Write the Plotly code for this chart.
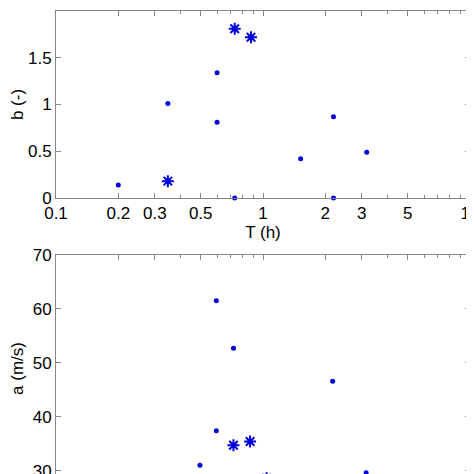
import plotly.graph_objects as go

top_dot_T = [0.2, 0.347, 0.60, 0.60, 0.73, 1.52, 2.19, 2.19, 3.17]
top_dot_b = [0.14, 1.01, 1.34, 0.81, 0.0, 0.42, 0.87, 0.0, 0.49]
top_star_T = [0.347, 0.73, 0.875]
top_star_b = [0.18, 1.81, 1.72]

bot_dot_T = [0.595, 0.72, 2.17, 0.595, 0.496, 3.15]
bot_dot_a = [61.5, 52.7, 46.6, 37.4, 31.0, 29.6]
bot_star_T = [0.72, 0.866, 1.04, 4.5]
bot_star_a = [34.7, 35.4, 28.6, 28.2]

xtick_vals = [0.1, 0.2, 0.3, 0.5, 1, 2, 3, 5, 10]
xtick_text = ["0.1", "0.2", "0.3", "0.5", "1", "2", "3", "5", "10"]
minor_vals = [0.4, 0.6, 0.7, 0.8, 0.9, 4, 6, 7, 8, 9]

C = "#0000dd"
fig = go.Figure()
dot = dict(symbol="circle", size=5, color=C)
star = dict(symbol="asterisk-open", size=10, color=C, line=dict(color=C, width=2))
fig.add_trace(go.Scatter(x=top_dot_T, y=top_dot_b, mode="markers", marker=dot, xaxis="x", yaxis="y", cliponaxis=False))
fig.add_trace(go.Scatter(x=top_star_T, y=top_star_b, mode="markers", marker=star, xaxis="x", yaxis="y", cliponaxis=False))
fig.add_trace(go.Scatter(x=bot_dot_T, y=bot_dot_a, mode="markers", marker=dot, xaxis="x2", yaxis="y2"))
fig.add_trace(go.Scatter(x=bot_star_T, y=bot_star_a, mode="markers", marker=star, xaxis="x2", yaxis="y2"))

font = dict(family="Liberation Sans, Arial", size=17, color="black")
axc = dict(showline=True, linecolor="#888", mirror="ticks", ticks="inside", ticklen=5,
           tickcolor="#888", showgrid=False, zeroline=False, tickfont=font, automargin=False)
xax = dict(type="log", range=[-1, 1], tickvals=xtick_vals, ticktext=xtick_text,
           minor=dict(tickvals=minor_vals, ticks="inside", ticklen=3, tickcolor="#888"), **axc)
fig.update_layout(
    width=474, height=474, showlegend=False, plot_bgcolor="white", paper_bgcolor="white",
    margin=dict(l=48, r=12, t=3, b=0),
    xaxis=dict(domain=[0, 1], anchor="y", title=dict(text="T (h)", font=font, standoff=0), **xax),
    yaxis=dict(domain=[0.603, 1], anchor="x", range=[0, 2], tickvals=[0, 0.5, 1, 1.5, 2],
               ticktext=["0", "0.5", "1", "1.5", "2"], title=dict(text="b (-)", font=font, standoff=4), **axc),
    xaxis2=dict(domain=[0, 1], anchor="y2", showticklabels=False, **xax),
    yaxis2=dict(domain=[0, 0.482], anchor="x2", range=[27.9, 70], tickvals=[30, 40, 50, 60, 70],
                title=dict(text="a (m/s)", font=font, standoff=4), **axc),
)
fig.write_html("out.html")
